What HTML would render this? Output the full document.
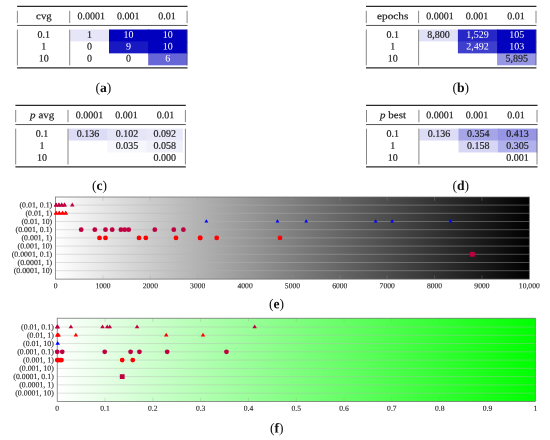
<!DOCTYPE html>
<html><head><meta charset="utf-8"><title>Figure</title>
<style>
html,body{margin:0;padding:0;background:#fff;}
svg{display:block;font-family:"Liberation Serif",serif;text-rendering:geometricPrecision;}
.t{font-size:10px;fill:#1a1a1a;text-anchor:middle;stroke:#1a1a1a;stroke-width:0.18px;}
.w{fill:#fff;stroke:none;}
.cap{font-size:13.6px;fill:#111;text-anchor:middle;}
.yl{font-size:7.85px;fill:#222;text-anchor:end;stroke:#222;stroke-width:0.12px;}
.xl{font-size:7.6px;fill:#222;text-anchor:middle;stroke:#222;stroke-width:0.12px;}
</style></head><body>
<svg width="550" height="440" viewBox="0 0 550 440">
<defs>
<linearGradient id="gk" x1="0" x2="1" y1="0" y2="0"><stop offset="0" stop-color="#fff"/><stop offset="1" stop-color="#000"/></linearGradient>
<linearGradient id="gg" x1="0" x2="1" y1="0" y2="0"><stop offset="0" stop-color="#fff"/><stop offset="1" stop-color="#00ff00"/></linearGradient>
</defs>
<rect width="550" height="440" fill="#fff"/>

<g>
<rect x="70.20" y="29.50" width="39.80" height="11.90" fill="rgb(230,230,248)"/>
<rect x="109.00" y="29.50" width="40.20" height="12.90" fill="rgb(0,0,190)"/>
<rect x="148.20" y="29.50" width="39.10" height="12.90" fill="rgb(0,0,190)"/>
<rect x="109.00" y="41.40" width="40.20" height="11.95" fill="rgb(25,25,196)"/>
<rect x="148.20" y="41.40" width="39.10" height="12.95" fill="rgb(0,0,190)"/>
<rect x="148.20" y="53.35" width="39.10" height="11.95" fill="rgb(102,102,216)"/>
<line x1="17.10" x2="187.50" y1="6.35" y2="6.35" stroke="#2a2a2a" stroke-width="1.2"/>
<line x1="17.10" x2="187.50" y1="25.45" y2="25.45" stroke="#2a2a2a" stroke-width="0.8"/>
<line x1="17.10" x2="187.50" y1="67.80" y2="67.80" stroke="#2a2a2a" stroke-width="1.2"/>
<line x1="17.40" x2="17.40" y1="10.80" y2="23.10" stroke="#555" stroke-width="0.7"/>
<line x1="17.40" x2="17.40" y1="29.60" y2="65.40" stroke="#555" stroke-width="0.7"/>
<line x1="69.70" x2="69.70" y1="10.80" y2="23.10" stroke="#555" stroke-width="0.7"/>
<line x1="69.70" x2="69.70" y1="29.60" y2="65.40" stroke="#555" stroke-width="0.7"/>
<line x1="187.10" x2="187.10" y1="10.80" y2="23.10" stroke="#555" stroke-width="0.7"/>
<line x1="187.10" x2="187.10" y1="29.60" y2="65.40" stroke="#555" stroke-width="0.7"/>
<text class="t" transform="translate(43.90 19.20) rotate(0.03)" textLength="15.6" lengthAdjust="spacingAndGlyphs">cvg</text>
<text class="t" transform="translate(91.20 19.20) rotate(0.03)">0.0001</text>
<text class="t" transform="translate(128.20 19.20) rotate(0.03)">0.001</text>
<text class="t" transform="translate(167.10 19.20) rotate(0.03)">0.01</text>
<text class="t" transform="translate(43.80 37.70) rotate(0.03)">0.1</text>
<text class="t" transform="translate(89.60 37.70) rotate(0.03)">1</text>
<text class="t w" transform="translate(128.60 37.70) rotate(0.03)">10</text>
<text class="t w" transform="translate(167.75 37.70) rotate(0.03)">10</text>
<text class="t" transform="translate(43.80 49.60) rotate(0.03)">1</text>
<text class="t" transform="translate(89.60 49.60) rotate(0.03)">0</text>
<text class="t w" transform="translate(128.60 49.60) rotate(0.03)">9</text>
<text class="t w" transform="translate(167.75 49.60) rotate(0.03)">10</text>
<text class="t" transform="translate(43.80 61.55) rotate(0.03)">10</text>
<text class="t" transform="translate(89.60 61.55) rotate(0.03)">0</text>
<text class="t" transform="translate(128.60 61.55) rotate(0.03)">0</text>
<text class="t w" transform="translate(167.75 61.55) rotate(0.03)">6</text>
</g>
<g>
<rect x="419.10" y="29.50" width="39.80" height="11.90" fill="rgb(224,224,247)"/>
<rect x="457.90" y="29.50" width="40.20" height="12.90" fill="rgb(39,39,200)"/>
<rect x="497.10" y="29.50" width="39.10" height="12.90" fill="rgb(3,3,191)"/>
<rect x="457.90" y="41.40" width="40.20" height="11.95" fill="rgb(63,63,206)"/>
<rect x="497.10" y="41.40" width="39.10" height="12.95" fill="rgb(3,3,191)"/>
<rect x="497.10" y="53.35" width="39.10" height="11.95" fill="rgb(150,150,228)"/>
<line x1="366.00" x2="536.40" y1="6.35" y2="6.35" stroke="#2a2a2a" stroke-width="1.2"/>
<line x1="366.00" x2="536.40" y1="25.45" y2="25.45" stroke="#2a2a2a" stroke-width="0.8"/>
<line x1="366.00" x2="536.40" y1="67.80" y2="67.80" stroke="#2a2a2a" stroke-width="1.2"/>
<line x1="366.30" x2="366.30" y1="10.80" y2="23.10" stroke="#555" stroke-width="0.7"/>
<line x1="366.30" x2="366.30" y1="29.60" y2="65.40" stroke="#555" stroke-width="0.7"/>
<line x1="418.60" x2="418.60" y1="10.80" y2="23.10" stroke="#555" stroke-width="0.7"/>
<line x1="418.60" x2="418.60" y1="29.60" y2="65.40" stroke="#555" stroke-width="0.7"/>
<line x1="536.00" x2="536.00" y1="10.80" y2="23.10" stroke="#555" stroke-width="0.7"/>
<line x1="536.00" x2="536.00" y1="29.60" y2="65.40" stroke="#555" stroke-width="0.7"/>
<text class="t" transform="translate(392.70 19.20) rotate(0.03)" textLength="31.2" lengthAdjust="spacingAndGlyphs">epochs</text>
<text class="t" transform="translate(440.10 19.20) rotate(0.03)">0.0001</text>
<text class="t" transform="translate(477.10 19.20) rotate(0.03)">0.001</text>
<text class="t" transform="translate(516.00 19.20) rotate(0.03)">0.01</text>
<text class="t" transform="translate(392.70 37.70) rotate(0.03)">0.1</text>
<text class="t" transform="translate(438.50 37.70) rotate(0.03)">8,800</text>
<text class="t w" transform="translate(477.50 37.70) rotate(0.03)">1,529</text>
<text class="t w" transform="translate(516.65 37.70) rotate(0.03)">105</text>
<text class="t" transform="translate(392.70 49.60) rotate(0.03)">1</text>
<text class="t w" transform="translate(477.50 49.60) rotate(0.03)">2,492</text>
<text class="t w" transform="translate(516.65 49.60) rotate(0.03)">103</text>
<text class="t" transform="translate(392.70 61.55) rotate(0.03)">10</text>
<text class="t" transform="translate(516.65 61.55) rotate(0.03)">5,895</text>
</g>
<g>
<rect x="68.50" y="128.60" width="39.80" height="11.90" fill="rgb(220,220,246)"/>
<rect x="107.30" y="128.60" width="40.20" height="12.90" fill="rgb(229,229,248)"/>
<rect x="146.50" y="128.60" width="36.30" height="12.90" fill="rgb(232,232,249)"/>
<rect x="107.30" y="140.50" width="40.20" height="11.95" fill="rgb(246,246,253)"/>
<rect x="146.50" y="140.50" width="36.30" height="11.95" fill="rgb(240,240,251)"/>
<line x1="15.40" x2="185.80" y1="105.45" y2="105.45" stroke="#2a2a2a" stroke-width="1.2"/>
<line x1="15.40" x2="185.80" y1="124.55" y2="124.55" stroke="#2a2a2a" stroke-width="0.8"/>
<line x1="15.40" x2="185.80" y1="166.90" y2="166.90" stroke="#2a2a2a" stroke-width="1.2"/>
<line x1="15.70" x2="15.70" y1="109.90" y2="122.20" stroke="#555" stroke-width="0.7"/>
<line x1="15.70" x2="15.70" y1="128.70" y2="164.50" stroke="#555" stroke-width="0.7"/>
<line x1="68.00" x2="68.00" y1="109.90" y2="122.20" stroke="#555" stroke-width="0.7"/>
<line x1="68.00" x2="68.00" y1="128.70" y2="164.50" stroke="#555" stroke-width="0.7"/>
<line x1="185.40" x2="185.40" y1="109.90" y2="122.20" stroke="#555" stroke-width="0.7"/>
<line x1="185.40" x2="185.40" y1="128.70" y2="164.50" stroke="#555" stroke-width="0.7"/>
<text class="t" transform="translate(42.20 118.30) rotate(0.03)" textLength="24.2" lengthAdjust="spacingAndGlyphs"><tspan font-style="italic">p</tspan> avg</text>
<text class="t" transform="translate(89.50 118.30) rotate(0.03)">0.0001</text>
<text class="t" transform="translate(126.50 118.30) rotate(0.03)">0.001</text>
<text class="t" transform="translate(165.40 118.30) rotate(0.03)">0.01</text>
<text class="t" transform="translate(42.10 136.80) rotate(0.03)">0.1</text>
<text class="t" transform="translate(87.90 136.80) rotate(0.03)">0.136</text>
<text class="t" transform="translate(126.90 136.80) rotate(0.03)">0.102</text>
<text class="t" transform="translate(164.65 136.80) rotate(0.03)">0.092</text>
<text class="t" transform="translate(42.10 148.70) rotate(0.03)">1</text>
<text class="t" transform="translate(126.90 148.70) rotate(0.03)">0.035</text>
<text class="t" transform="translate(164.65 148.70) rotate(0.03)">0.058</text>
<text class="t" transform="translate(42.10 160.65) rotate(0.03)">10</text>
<text class="t" transform="translate(164.65 160.65) rotate(0.03)">0.000</text>
</g>
<g>
<rect x="419.50" y="128.60" width="40.00" height="11.90" fill="rgb(220,220,246)"/>
<rect x="458.50" y="128.60" width="40.40" height="12.90" fill="rgb(165,165,232)"/>
<rect x="497.90" y="128.60" width="39.40" height="12.90" fill="rgb(150,150,228)"/>
<rect x="458.50" y="140.50" width="40.40" height="11.95" fill="rgb(215,215,245)"/>
<rect x="497.90" y="140.50" width="39.40" height="12.95" fill="rgb(177,177,235)"/>
<rect x="497.90" y="152.45" width="39.40" height="11.95" fill="rgb(255,255,255)"/>
<line x1="366.00" x2="537.50" y1="105.45" y2="105.45" stroke="#2a2a2a" stroke-width="1.2"/>
<line x1="366.00" x2="537.50" y1="124.55" y2="124.55" stroke="#2a2a2a" stroke-width="0.8"/>
<line x1="366.00" x2="537.50" y1="166.90" y2="166.90" stroke="#2a2a2a" stroke-width="1.2"/>
<line x1="366.50" x2="366.50" y1="109.90" y2="122.20" stroke="#555" stroke-width="0.7"/>
<line x1="366.50" x2="366.50" y1="128.70" y2="164.50" stroke="#555" stroke-width="0.7"/>
<line x1="418.90" x2="418.90" y1="109.90" y2="122.20" stroke="#555" stroke-width="0.7"/>
<line x1="418.90" x2="418.90" y1="128.70" y2="164.50" stroke="#555" stroke-width="0.7"/>
<line x1="537.00" x2="537.00" y1="109.90" y2="122.20" stroke="#555" stroke-width="0.7"/>
<line x1="537.00" x2="537.00" y1="128.70" y2="164.50" stroke="#555" stroke-width="0.7"/>
<text class="t" transform="translate(393.00 118.30) rotate(0.03)" textLength="25.8" lengthAdjust="spacingAndGlyphs"><tspan font-style="italic">p</tspan> best</text>
<text class="t" transform="translate(440.10 118.30) rotate(0.03)">0.0001</text>
<text class="t" transform="translate(477.10 118.30) rotate(0.03)">0.001</text>
<text class="t" transform="translate(516.00 118.30) rotate(0.03)">0.01</text>
<text class="t" transform="translate(392.70 136.80) rotate(0.03)">0.1</text>
<text class="t" transform="translate(439.00 136.80) rotate(0.03)">0.136</text>
<text class="t" transform="translate(478.20 136.80) rotate(0.03)">0.354</text>
<text class="t" transform="translate(517.60 136.80) rotate(0.03)">0.413</text>
<text class="t" transform="translate(392.70 148.70) rotate(0.03)">1</text>
<text class="t" transform="translate(478.20 148.70) rotate(0.03)">0.158</text>
<text class="t" transform="translate(517.60 148.70) rotate(0.03)">0.305</text>
<text class="t" transform="translate(392.70 160.65) rotate(0.03)">10</text>
<text class="t" transform="translate(517.60 160.65) rotate(0.03)">0.001</text>
</g>
<text class="cap" transform="translate(103.40 92.00) rotate(0.03)">(<tspan font-weight="bold">a</tspan>)</text>
<text class="cap" transform="translate(460.70 92.00) rotate(0.03)">(<tspan font-weight="bold">b</tspan>)</text>
<text class="cap" transform="translate(99.50 190.00) rotate(0.03)">(<tspan font-weight="bold">c</tspan>)</text>
<text class="cap" transform="translate(460.70 190.00) rotate(0.03)">(<tspan font-weight="bold">d</tspan>)</text>
<text class="cap" transform="translate(276.60 308.30) rotate(0.03)">(<tspan font-weight="bold">e</tspan>)</text>
<text class="cap" transform="translate(276.70 432.60) rotate(0.03)">(<tspan font-weight="bold">f</tspan>)</text>
<g>
<rect x="55.60" y="197.00" width="473.70" height="82.10" fill="url(#gk)"/>
<line x1="55.60" x2="529.30" y1="205.10" y2="205.10" stroke="#b4b4b4" stroke-opacity="0.66" stroke-width="0.6"/>
<line x1="55.60" x2="529.30" y1="213.30" y2="213.30" stroke="#b4b4b4" stroke-opacity="0.66" stroke-width="0.6"/>
<line x1="55.60" x2="529.30" y1="221.50" y2="221.50" stroke="#b4b4b4" stroke-opacity="0.66" stroke-width="0.6"/>
<line x1="55.60" x2="529.30" y1="229.70" y2="229.70" stroke="#b4b4b4" stroke-opacity="0.66" stroke-width="0.6"/>
<line x1="55.60" x2="529.30" y1="237.90" y2="237.90" stroke="#b4b4b4" stroke-opacity="0.66" stroke-width="0.6"/>
<line x1="55.60" x2="529.30" y1="246.10" y2="246.10" stroke="#b4b4b4" stroke-opacity="0.66" stroke-width="0.6"/>
<line x1="55.60" x2="529.30" y1="254.30" y2="254.30" stroke="#b4b4b4" stroke-opacity="0.66" stroke-width="0.6"/>
<line x1="55.60" x2="529.30" y1="262.50" y2="262.50" stroke="#b4b4b4" stroke-opacity="0.66" stroke-width="0.6"/>
<line x1="55.60" x2="529.30" y1="270.70" y2="270.70" stroke="#b4b4b4" stroke-opacity="0.66" stroke-width="0.6"/>
<text class="xl" transform="translate(55.60 288.35) rotate(0.03)">0</text>
<line x1="102.97" x2="102.97" y1="275.30" y2="279.10" stroke="#999" stroke-opacity="0.6" stroke-width="0.5"/>
<line x1="102.97" x2="102.97" y1="197.00" y2="200.80" stroke="#999" stroke-opacity="0.6" stroke-width="0.5"/>
<text class="xl" transform="translate(102.97 288.35) rotate(0.03)">1000</text>
<line x1="150.34" x2="150.34" y1="275.30" y2="279.10" stroke="#999" stroke-opacity="0.6" stroke-width="0.5"/>
<line x1="150.34" x2="150.34" y1="197.00" y2="200.80" stroke="#999" stroke-opacity="0.6" stroke-width="0.5"/>
<text class="xl" transform="translate(150.34 288.35) rotate(0.03)">2000</text>
<line x1="197.71" x2="197.71" y1="275.30" y2="279.10" stroke="#999" stroke-opacity="0.6" stroke-width="0.5"/>
<line x1="197.71" x2="197.71" y1="197.00" y2="200.80" stroke="#999" stroke-opacity="0.6" stroke-width="0.5"/>
<text class="xl" transform="translate(197.71 288.35) rotate(0.03)">3000</text>
<line x1="245.08" x2="245.08" y1="275.30" y2="279.10" stroke="#999" stroke-opacity="0.6" stroke-width="0.5"/>
<line x1="245.08" x2="245.08" y1="197.00" y2="200.80" stroke="#999" stroke-opacity="0.6" stroke-width="0.5"/>
<text class="xl" transform="translate(245.08 288.35) rotate(0.03)">4000</text>
<line x1="292.45" x2="292.45" y1="275.30" y2="279.10" stroke="#999" stroke-opacity="0.6" stroke-width="0.5"/>
<line x1="292.45" x2="292.45" y1="197.00" y2="200.80" stroke="#999" stroke-opacity="0.6" stroke-width="0.5"/>
<text class="xl" transform="translate(292.45 288.35) rotate(0.03)">5000</text>
<line x1="339.82" x2="339.82" y1="275.30" y2="279.10" stroke="#999" stroke-opacity="0.6" stroke-width="0.5"/>
<line x1="339.82" x2="339.82" y1="197.00" y2="200.80" stroke="#999" stroke-opacity="0.6" stroke-width="0.5"/>
<text class="xl" transform="translate(339.82 288.35) rotate(0.03)">6000</text>
<line x1="387.19" x2="387.19" y1="275.30" y2="279.10" stroke="#999" stroke-opacity="0.6" stroke-width="0.5"/>
<line x1="387.19" x2="387.19" y1="197.00" y2="200.80" stroke="#999" stroke-opacity="0.6" stroke-width="0.5"/>
<text class="xl" transform="translate(387.19 288.35) rotate(0.03)">7000</text>
<line x1="434.56" x2="434.56" y1="275.30" y2="279.10" stroke="#999" stroke-opacity="0.6" stroke-width="0.5"/>
<line x1="434.56" x2="434.56" y1="197.00" y2="200.80" stroke="#999" stroke-opacity="0.6" stroke-width="0.5"/>
<text class="xl" transform="translate(434.56 288.35) rotate(0.03)">8000</text>
<line x1="481.93" x2="481.93" y1="275.30" y2="279.10" stroke="#999" stroke-opacity="0.6" stroke-width="0.5"/>
<line x1="481.93" x2="481.93" y1="197.00" y2="200.80" stroke="#999" stroke-opacity="0.6" stroke-width="0.5"/>
<text class="xl" transform="translate(481.93 288.35) rotate(0.03)">9000</text>
<text class="xl" transform="translate(529.30 288.35) rotate(0.03)">10,000</text>
<rect x="55.60" y="197.00" width="473.70" height="82.10" fill="none" stroke="#666" stroke-width="0.7"/>
<text class="yl" transform="translate(52.20 207.50) rotate(0.03)">(0.01, 0.1)</text>
<text class="yl" transform="translate(52.20 215.70) rotate(0.03)">(0.01, 1)</text>
<text class="yl" transform="translate(52.20 223.90) rotate(0.03)">(0.01, 10)</text>
<text class="yl" transform="translate(52.20 232.10) rotate(0.03)">(0.001, 0.1)</text>
<text class="yl" transform="translate(52.20 240.30) rotate(0.03)">(0.001, 1)</text>
<text class="yl" transform="translate(52.20 248.50) rotate(0.03)">(0.001, 10)</text>
<text class="yl" transform="translate(52.20 256.70) rotate(0.03)">(0.0001, 0.1)</text>
<text class="yl" transform="translate(52.20 264.90) rotate(0.03)">(0.0001, 1)</text>
<text class="yl" transform="translate(52.20 273.10) rotate(0.03)">(0.0001, 10)</text>
<polygon points="55.98,202.50 53.73,206.40 58.23,206.40" fill="#bf0040"/>
<polygon points="56.17,202.50 53.92,206.40 58.42,206.40" fill="#bf0040"/>
<polygon points="58.82,202.50 56.57,206.40 61.07,206.40" fill="#bf0040"/>
<polygon points="59.01,202.50 56.76,206.40 61.26,206.40" fill="#bf0040"/>
<polygon points="61.62,202.50 59.36,206.40 63.87,206.40" fill="#bf0040"/>
<polygon points="61.81,202.50 59.55,206.40 64.06,206.40" fill="#bf0040"/>
<polygon points="64.41,202.50 62.16,206.40 66.66,206.40" fill="#bf0040"/>
<polygon points="64.60,202.50 62.35,206.40 66.85,206.40" fill="#bf0040"/>
<polygon points="72.27,202.50 70.02,206.40 74.53,206.40" fill="#bf0040"/>
<polygon points="55.98,210.70 53.73,214.60 58.23,214.60" fill="#ff0000"/>
<polygon points="56.17,210.70 53.92,214.60 58.42,214.60" fill="#ff0000"/>
<polygon points="59.20,210.70 56.95,214.60 61.45,214.60" fill="#ff0000"/>
<polygon points="59.39,210.70 57.14,214.60 61.64,214.60" fill="#ff0000"/>
<polygon points="62.47,210.70 60.22,214.60 64.72,214.60" fill="#ff0000"/>
<polygon points="62.66,210.70 60.41,214.60 64.91,214.60" fill="#ff0000"/>
<polygon points="65.64,210.70 63.39,214.60 67.89,214.60" fill="#ff0000"/>
<polygon points="65.83,210.70 63.58,214.60 68.08,214.60" fill="#ff0000"/>
<polygon points="206.38,219.25 204.43,222.62 208.33,222.62" fill="#0000ff"/>
<polygon points="277.48,219.25 275.53,222.62 279.43,222.62" fill="#0000ff"/>
<polygon points="306.19,219.25 304.24,222.62 308.14,222.62" fill="#0000ff"/>
<polygon points="375.68,219.25 373.73,222.62 377.63,222.62" fill="#0000ff"/>
<polygon points="392.12,219.25 390.17,222.62 394.06,222.62" fill="#0000ff"/>
<polygon points="450.48,219.25 448.53,222.62 452.42,222.62" fill="#0000ff"/>
<circle cx="81.18" cy="229.70" r="2.40" fill="#bf0040"/>
<circle cx="94.82" cy="229.70" r="2.40" fill="#bf0040"/>
<circle cx="105.48" cy="229.70" r="2.40" fill="#bf0040"/>
<circle cx="112.21" cy="229.70" r="2.40" fill="#bf0040"/>
<circle cx="120.88" cy="229.70" r="2.40" fill="#bf0040"/>
<circle cx="124.71" cy="229.70" r="2.40" fill="#bf0040"/>
<circle cx="128.69" cy="229.70" r="2.40" fill="#bf0040"/>
<circle cx="154.79" cy="229.70" r="2.40" fill="#bf0040"/>
<circle cx="173.79" cy="229.70" r="2.40" fill="#bf0040"/>
<circle cx="183.40" cy="229.70" r="2.40" fill="#bf0040"/>
<circle cx="99.51" cy="237.90" r="2.40" fill="#ff0000"/>
<circle cx="105.48" cy="237.90" r="2.40" fill="#ff0000"/>
<circle cx="139.02" cy="237.90" r="2.40" fill="#ff0000"/>
<circle cx="145.79" cy="237.90" r="2.40" fill="#ff0000"/>
<circle cx="176.01" cy="237.90" r="2.40" fill="#ff0000"/>
<circle cx="200.08" cy="237.90" r="2.40" fill="#ff0000"/>
<circle cx="200.22" cy="237.90" r="2.40" fill="#ff0000"/>
<circle cx="216.71" cy="237.90" r="2.40" fill="#ff0000"/>
<circle cx="279.99" cy="237.90" r="2.40" fill="#ff0000"/>
<rect x="470.06" y="251.90" width="4.80" height="4.80" fill="#bf0040"/>
</g>
<g>
<rect x="57.20" y="318.20" width="478.10" height="83.30" fill="url(#gg)"/>
<line x1="57.20" x2="535.30" y1="327.00" y2="327.00" stroke="#b4b4b4" stroke-opacity="0.66" stroke-width="0.6"/>
<line x1="57.20" x2="535.30" y1="335.27" y2="335.27" stroke="#b4b4b4" stroke-opacity="0.66" stroke-width="0.6"/>
<line x1="57.20" x2="535.30" y1="343.54" y2="343.54" stroke="#b4b4b4" stroke-opacity="0.66" stroke-width="0.6"/>
<line x1="57.20" x2="535.30" y1="351.81" y2="351.81" stroke="#b4b4b4" stroke-opacity="0.66" stroke-width="0.6"/>
<line x1="57.20" x2="535.30" y1="360.08" y2="360.08" stroke="#b4b4b4" stroke-opacity="0.66" stroke-width="0.6"/>
<line x1="57.20" x2="535.30" y1="368.35" y2="368.35" stroke="#b4b4b4" stroke-opacity="0.66" stroke-width="0.6"/>
<line x1="57.20" x2="535.30" y1="376.62" y2="376.62" stroke="#b4b4b4" stroke-opacity="0.66" stroke-width="0.6"/>
<line x1="57.20" x2="535.30" y1="384.89" y2="384.89" stroke="#b4b4b4" stroke-opacity="0.66" stroke-width="0.6"/>
<line x1="57.20" x2="535.30" y1="393.16" y2="393.16" stroke="#b4b4b4" stroke-opacity="0.66" stroke-width="0.6"/>
<text class="xl" transform="translate(57.20 410.75) rotate(0.03)">0</text>
<line x1="105.01" x2="105.01" y1="397.70" y2="401.50" stroke="#999" stroke-opacity="0.6" stroke-width="0.5"/>
<line x1="105.01" x2="105.01" y1="318.20" y2="322.00" stroke="#999" stroke-opacity="0.6" stroke-width="0.5"/>
<text class="xl" transform="translate(105.01 410.75) rotate(0.03)">0.1</text>
<line x1="152.82" x2="152.82" y1="397.70" y2="401.50" stroke="#999" stroke-opacity="0.6" stroke-width="0.5"/>
<line x1="152.82" x2="152.82" y1="318.20" y2="322.00" stroke="#999" stroke-opacity="0.6" stroke-width="0.5"/>
<text class="xl" transform="translate(152.82 410.75) rotate(0.03)">0.2</text>
<line x1="200.63" x2="200.63" y1="397.70" y2="401.50" stroke="#999" stroke-opacity="0.6" stroke-width="0.5"/>
<line x1="200.63" x2="200.63" y1="318.20" y2="322.00" stroke="#999" stroke-opacity="0.6" stroke-width="0.5"/>
<text class="xl" transform="translate(200.63 410.75) rotate(0.03)">0.3</text>
<line x1="248.44" x2="248.44" y1="397.70" y2="401.50" stroke="#999" stroke-opacity="0.6" stroke-width="0.5"/>
<line x1="248.44" x2="248.44" y1="318.20" y2="322.00" stroke="#999" stroke-opacity="0.6" stroke-width="0.5"/>
<text class="xl" transform="translate(248.44 410.75) rotate(0.03)">0.4</text>
<line x1="296.25" x2="296.25" y1="397.70" y2="401.50" stroke="#999" stroke-opacity="0.6" stroke-width="0.5"/>
<line x1="296.25" x2="296.25" y1="318.20" y2="322.00" stroke="#999" stroke-opacity="0.6" stroke-width="0.5"/>
<text class="xl" transform="translate(296.25 410.75) rotate(0.03)">0.5</text>
<line x1="344.06" x2="344.06" y1="397.70" y2="401.50" stroke="#999" stroke-opacity="0.6" stroke-width="0.5"/>
<line x1="344.06" x2="344.06" y1="318.20" y2="322.00" stroke="#999" stroke-opacity="0.6" stroke-width="0.5"/>
<text class="xl" transform="translate(344.06 410.75) rotate(0.03)">0.6</text>
<line x1="391.87" x2="391.87" y1="397.70" y2="401.50" stroke="#999" stroke-opacity="0.6" stroke-width="0.5"/>
<line x1="391.87" x2="391.87" y1="318.20" y2="322.00" stroke="#999" stroke-opacity="0.6" stroke-width="0.5"/>
<text class="xl" transform="translate(391.87 410.75) rotate(0.03)">0.7</text>
<line x1="439.68" x2="439.68" y1="397.70" y2="401.50" stroke="#999" stroke-opacity="0.6" stroke-width="0.5"/>
<line x1="439.68" x2="439.68" y1="318.20" y2="322.00" stroke="#999" stroke-opacity="0.6" stroke-width="0.5"/>
<text class="xl" transform="translate(439.68 410.75) rotate(0.03)">0.8</text>
<line x1="487.49" x2="487.49" y1="397.70" y2="401.50" stroke="#999" stroke-opacity="0.6" stroke-width="0.5"/>
<line x1="487.49" x2="487.49" y1="318.20" y2="322.00" stroke="#999" stroke-opacity="0.6" stroke-width="0.5"/>
<text class="xl" transform="translate(487.49 410.75) rotate(0.03)">0.9</text>
<text class="xl" transform="translate(535.30 410.75) rotate(0.03)">1</text>
<rect x="57.20" y="318.20" width="478.10" height="83.30" fill="none" stroke="#666" stroke-width="0.7"/>
<text class="yl" transform="translate(53.80 329.40) rotate(0.03)">(0.01, 0.1)</text>
<text class="yl" transform="translate(53.80 337.67) rotate(0.03)">(0.01, 1)</text>
<text class="yl" transform="translate(53.80 345.94) rotate(0.03)">(0.01, 10)</text>
<text class="yl" transform="translate(53.80 354.21) rotate(0.03)">(0.001, 0.1)</text>
<text class="yl" transform="translate(53.80 362.48) rotate(0.03)">(0.001, 1)</text>
<text class="yl" transform="translate(53.80 370.75) rotate(0.03)">(0.001, 10)</text>
<text class="yl" transform="translate(53.80 379.02) rotate(0.03)">(0.0001, 0.1)</text>
<text class="yl" transform="translate(53.80 387.29) rotate(0.03)">(0.0001, 1)</text>
<text class="yl" transform="translate(53.80 395.56) rotate(0.03)">(0.0001, 10)</text>
<polygon points="57.20,324.40 54.95,328.30 59.45,328.30" fill="#bf0040"/>
<polygon points="57.44,324.40 55.19,328.30 59.69,328.30" fill="#bf0040"/>
<polygon points="57.68,324.40 55.43,328.30 59.93,328.30" fill="#bf0040"/>
<polygon points="70.92,324.40 68.67,328.30 73.17,328.30" fill="#bf0040"/>
<polygon points="102.52,324.40 100.27,328.30 104.78,328.30" fill="#bf0040"/>
<polygon points="107.21,324.40 104.96,328.30 109.46,328.30" fill="#bf0040"/>
<polygon points="109.79,324.40 107.54,328.30 112.04,328.30" fill="#bf0040"/>
<polygon points="137.04,324.40 134.79,328.30 139.29,328.30" fill="#bf0040"/>
<polygon points="254.66,324.40 252.40,328.30 256.91,328.30" fill="#bf0040"/>
<polygon points="57.20,332.67 54.95,336.57 59.45,336.57" fill="#ff0000"/>
<polygon points="57.68,332.67 55.43,336.57 59.93,336.57" fill="#ff0000"/>
<polygon points="58.63,332.67 56.38,336.57 60.89,336.57" fill="#ff0000"/>
<polygon points="75.85,332.67 73.59,336.57 78.10,336.57" fill="#ff0000"/>
<polygon points="166.21,332.67 163.96,336.57 168.46,336.57" fill="#ff0000"/>
<polygon points="203.02,332.67 200.77,336.57 205.27,336.57" fill="#ff0000"/>
<polygon points="57.68,340.94 55.43,344.84 59.93,344.84" fill="#0000ff"/>
<circle cx="57.20" cy="351.81" r="2.40" fill="#bf0040"/>
<circle cx="62.22" cy="351.81" r="2.40" fill="#bf0040"/>
<circle cx="104.72" cy="351.81" r="2.40" fill="#bf0040"/>
<circle cx="130.59" cy="351.81" r="2.40" fill="#bf0040"/>
<circle cx="139.43" cy="351.81" r="2.40" fill="#bf0040"/>
<circle cx="167.16" cy="351.81" r="2.40" fill="#bf0040"/>
<circle cx="226.45" cy="351.81" r="2.40" fill="#bf0040"/>
<circle cx="57.20" cy="360.08" r="2.40" fill="#ff0000"/>
<circle cx="58.63" cy="360.08" r="2.40" fill="#ff0000"/>
<circle cx="60.07" cy="360.08" r="2.40" fill="#ff0000"/>
<circle cx="61.50" cy="360.08" r="2.40" fill="#ff0000"/>
<circle cx="122.22" cy="360.08" r="2.40" fill="#ff0000"/>
<circle cx="132.74" cy="360.08" r="2.40" fill="#ff0000"/>
<rect x="119.82" y="374.22" width="4.80" height="4.80" fill="#bf0040"/>
</g>
</svg></body></html>
